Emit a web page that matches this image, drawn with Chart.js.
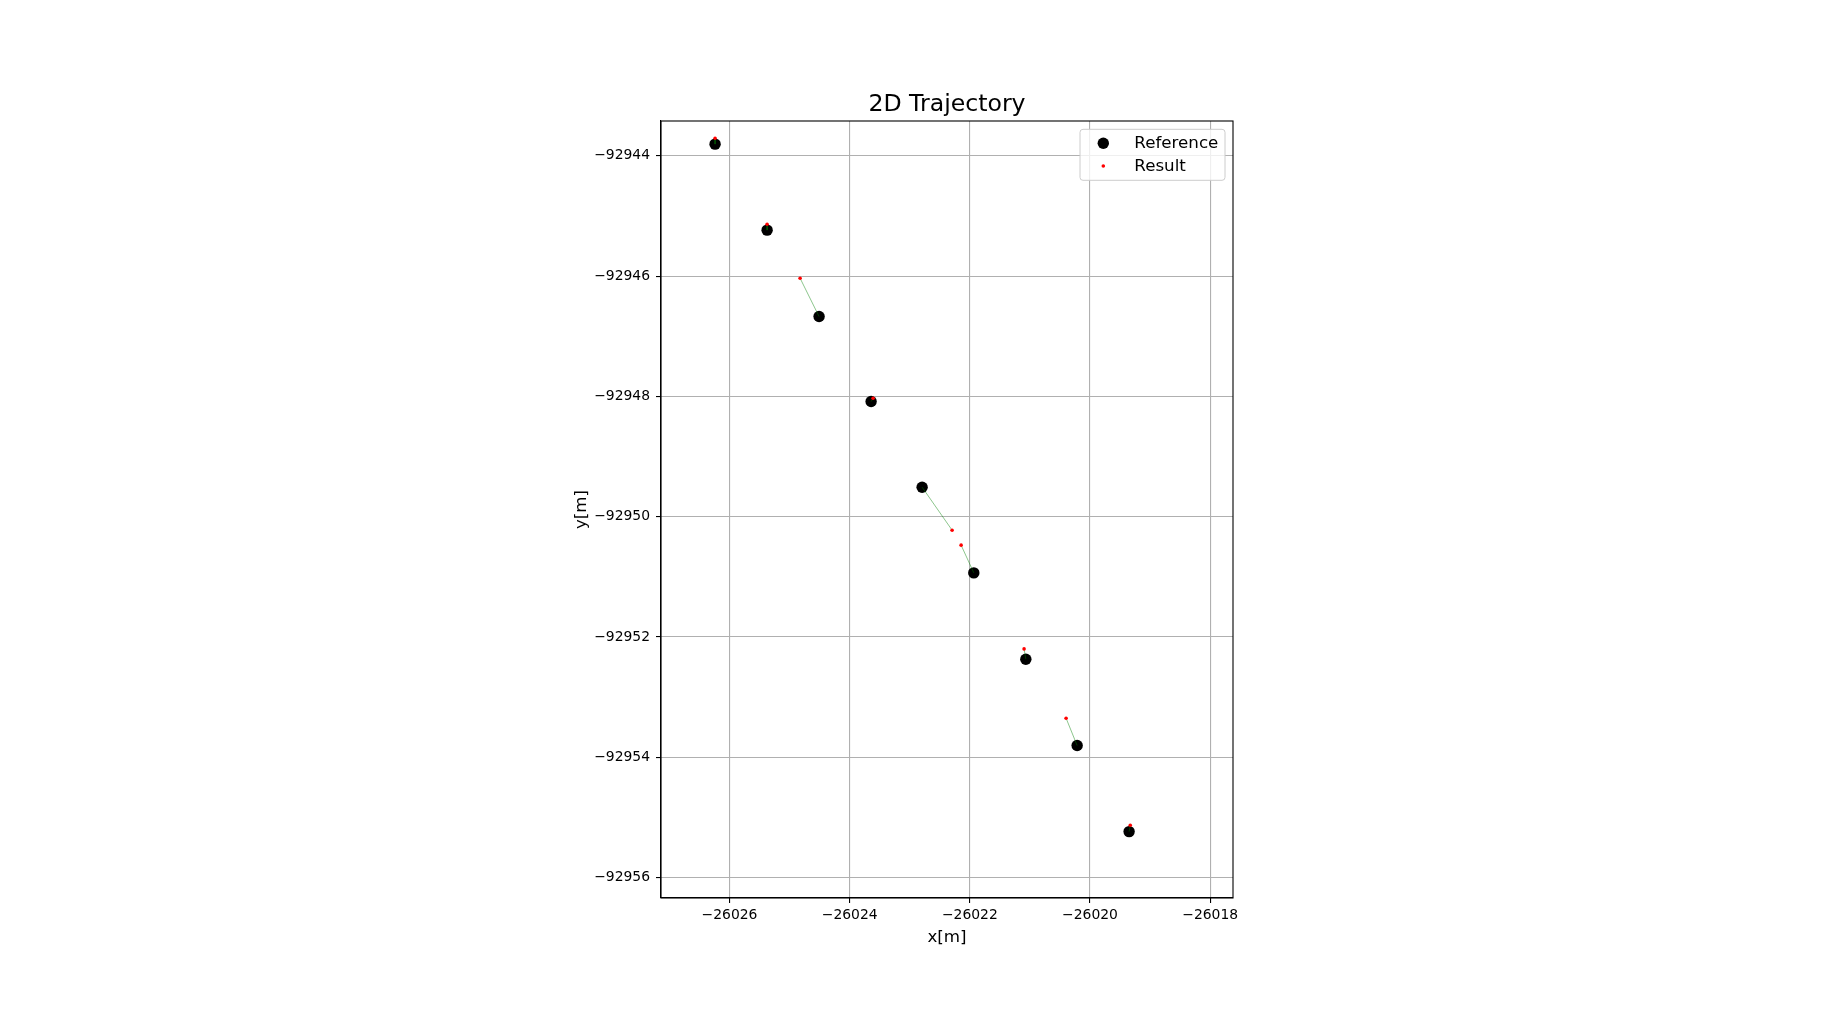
<!DOCTYPE html>
<html>
<head>
<meta charset="utf-8">
<title>2D Trajectory</title>
<script src="https://cdn.jsdelivr.net/npm/chart.js@4.4.1/dist/chart.umd.min.js"></script>
<style>
  html, body { margin: 0; padding: 0; background: #fff; }
  canvas { display: block; }
</style>
</head>
<body>
<canvas id="trajChart" width="1848" height="1009"></canvas>
<script>
// reference positions (black)
const refX = [-26026.24, -26025.374, -26024.509, -26023.643, -26022.794, -26021.934, -26021.068, -26020.214, -26019.349];
const refY = [-92943.805, -92945.235, -92946.672, -92948.085, -92949.509, -92950.934, -92952.369, -92953.805, -92955.236];
// result positions (red)
const resX = [-26026.24, -26025.374, -26024.825, -26023.61, -26022.295, -26022.145, -26021.097, -26020.398, -26019.33];
const resY = [-92943.706, -92945.136, -92946.034, -92948.029, -92950.224, -92950.473, -92952.198, -92953.35, -92955.13];

const xTicks = [-26026, -26024, -26022, -26020, -26018];
const yTicks = [-92944, -92946, -92948, -92950, -92952, -92954, -92956];
const xRange = [-26027.14, -26017.62];
const yRange = [-92956.34, -92943.42];

const FONT = "'DejaVu Sans', sans-serif";
const minus = v => (v < 0 ? '\u2212' : '') + Math.abs(v);

// error lines result -> reference
const errLines = refX.map((x, i) => ({
    type: 'scatter',
    data: [{x: resX[i], y: resY[i]}, {x: x, y: refY[i]}],
    showLine: true,
    borderColor: 'rgba(0, 128, 0, 0.45)',
    borderWidth: 1,
    pointRadius: 0,
    order: 2,
}));

const extras = {
    id: 'extras',
    afterDraw(chart) {
        const ctx = chart.ctx;
        const a = chart.chartArea;
        const cx = (a.left + a.right) / 2;
        ctx.save();
        // frame
        ctx.strokeStyle = '#000';
        ctx.lineWidth = 1.1;
        ctx.strokeRect(a.left, a.top, a.right - a.left, a.bottom - a.top);

        // title and axis labels
        ctx.fillStyle = '#000';
        ctx.textAlign = 'center';
        ctx.textBaseline = 'alphabetic';
        ctx.font = '23.6px ' + FONT;
        ctx.fillText('2D Trajectory', cx, a.top - 10.3);
        ctx.font = '16.7px ' + FONT;
        ctx.fillText('x[m]', cx, a.bottom + 43.7);
        ctx.save();
        ctx.translate(585.7, (a.top + a.bottom) / 2);
        ctx.rotate(-Math.PI / 2);
        ctx.fillText('y[m]', 0, 0);
        ctx.restore();

        // legend
        const lx = 1080, ly = 129.3, lw = 145, lh = 51;
        ctx.beginPath();
        ctx.roundRect(lx, ly, lw, lh, 3);
        ctx.fillStyle = 'rgba(255,255,255,0.8)';
        ctx.fill();
        ctx.strokeStyle = '#cccccc';
        ctx.lineWidth = 1;
        ctx.stroke();

        ctx.fillStyle = '#000';
        ctx.beginPath();
        ctx.arc(lx + 23.3, ly + 14, 5.7, 0, Math.PI * 2);
        ctx.fill();
        ctx.fillStyle = '#ff0000';
        ctx.beginPath();
        ctx.arc(lx + 23.3, ly + 36.7, 1.8, 0, Math.PI * 2);
        ctx.fill();

        ctx.fillStyle = '#000';
        ctx.textAlign = 'left';
        ctx.font = '16.7px ' + FONT;
        ctx.fillText('Reference', lx + 54.3, ly + 19);
        ctx.fillText('Result', lx + 54.3, ly + 41.7);
        ctx.restore();
    }
};

const ctx = document.getElementById('trajChart').getContext('2d');
new Chart(ctx, {
    type: 'scatter',
    data: {
        datasets: [
            {
                label: 'Result',
                data: resX.map((x, i) => ({x: x, y: resY[i]})),
                backgroundColor: '#ff0000',
                borderWidth: 0,
                pointRadius: 1.8,
                order: 1,
            },
            ...errLines,
            {
                label: 'Reference',
                data: refX.map((x, i) => ({x: x, y: refY[i]})),
                backgroundColor: '#000000',
                borderWidth: 0,
                pointRadius: 5.7,
                order: 3,
            },
        ]
    },
    options: {
        responsive: false,
        animation: false,
        devicePixelRatio: 1,
        layout: {
            padding: {left: 561, right: 615, top: 121, bottom: 51}
        },
        plugins: {
            legend: {display: false},
            title: {display: false},
            tooltip: {enabled: false}
        },
        scales: {
            x: {
                type: 'linear',
                position: 'bottom',
                min: xRange[0],
                max: xRange[1],
                afterBuildTicks: scale => { scale.ticks = xTicks.map(v => ({value: v})); },
                afterFit: scale => { scale.height = 60; },
                ticks: {
                    callback: v => minus(v),
                    color: '#000',
                    font: {family: FONT, size: 13.9},
                    padding: 4,
                    maxRotation: 0,
                    autoSkip: false,
                },
                grid: {
                    color: '#b0b0b0',
                    lineWidth: 1.1,
                    tickColor: '#000',
                    tickLength: 5,
                    tickWidth: 1.1,
                },
                border: {color: '#000', width: 1.1},
            },
            y: {
                type: 'linear',
                position: 'left',
                min: yRange[0],
                max: yRange[1],
                afterBuildTicks: scale => { scale.ticks = yTicks.map(v => ({value: v})); },
                afterFit: scale => { scale.width = 100; },
                ticks: {
                    callback: v => minus(v),
                    color: '#000',
                    font: {family: FONT, size: 13.9},
                    padding: 6,
                    autoSkip: false,
                },
                grid: {
                    color: '#b0b0b0',
                    lineWidth: 1.1,
                    tickColor: '#000',
                    tickLength: 5,
                    tickWidth: 1.1,
                },
                border: {color: '#000', width: 1.1},
            }
        }
    },
    plugins: [extras]
});
</script>
</body>
</html>
